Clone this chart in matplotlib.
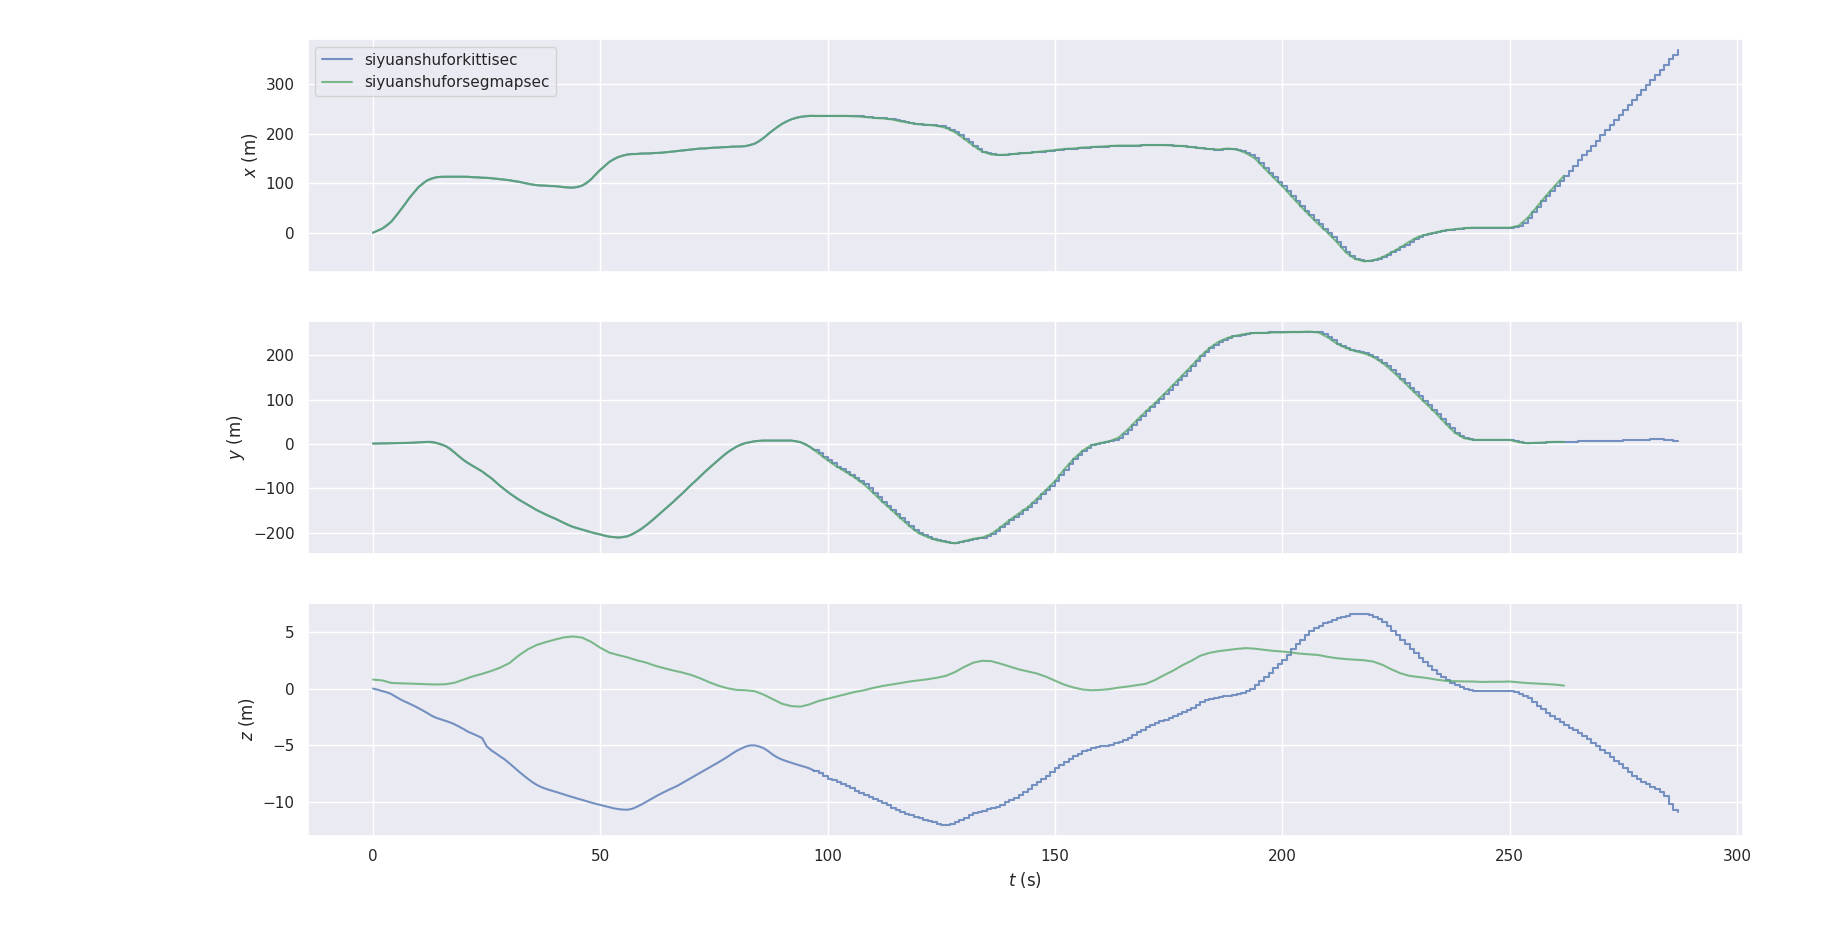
import numpy as np
import matplotlib
matplotlib.use("Agg")
import matplotlib.pyplot as plt
import seaborn as sns

# trajectory 1: siyuanshuforkittisec, one sample per second (t = 0 .. 287 s)
kitti_x = [
    0, 4, 8, 14, 22, 33, 45, 57, 70, 81,
    92, 100, 106, 110, 112, 113, 113, 113, 113, 113,
    113, 113, 112, 112, 111, 111, 110, 109, 108, 107,
    106, 104, 103, 101, 99, 97, 96, 95, 95, 94,
    94, 93, 92, 91, 91, 92, 95, 100, 108, 118,
    127, 135, 143, 149, 153, 156, 158, 159, 159, 160,
    160, 160, 161, 161, 162, 163, 164, 165, 166, 167,
    168, 169, 170, 170, 171, 172, 172, 173, 173, 174,
    174, 174, 175, 177, 180, 185, 192, 200, 207, 214,
    220, 225, 229, 232, 234, 235, 236, 236, 236, 236,
    236, 236, 236, 236, 236, 236, 235, 235, 234, 233,
    232, 231, 231, 230, 229, 227, 225, 223, 222, 220,
    219, 218, 218, 217, 216, 215, 212, 208, 203, 197,
    190, 183, 176, 170, 164, 160, 158, 157, 157, 157,
    158, 159, 160, 160, 161, 162, 163, 164, 165, 166,
    167, 168, 169, 169, 170, 171, 172, 172, 173, 173,
    174, 174, 175, 175, 176, 176, 176, 176, 176, 177,
    177, 177, 177, 177, 177, 177, 176, 176, 175, 174,
    173, 172, 171, 170, 169, 168, 168, 169, 170, 170,
    168, 165, 161, 156, 150, 141, 131, 121, 112, 103,
    94, 84, 74, 64, 54, 44, 35, 26, 17, 8,
    0, -9, -19, -30, -40, -48, -53, -56, -58, -58,
    -56, -53, -50, -45, -40, -35, -30, -24, -18, -13,
    -8, -5, -3, -1, 1, 3, 5, 6, 7, 8,
    9, 9, 10, 10, 10, 10, 10, 10, 10, 10,
    10, 11, 14, 20, 30, 41, 52, 63, 74, 85,
    95, 105, 115, 125, 135, 146, 156, 166, 176, 186,
    197, 207, 217, 227, 237, 248, 258, 268, 278, 288,
    299, 309, 319, 329, 339, 350, 360, 370,
]
kitti_y = [
    0.7, 0.9, 1.1, 1.3, 1.5, 1.7, 1.9, 2.0, 2.4, 2.9,
    3.4, 4.0, 4.5, 4.5, 2, -1, -5, -11, -20, -29,
    -37, -44, -50, -56, -62, -70, -77, -86, -95, -103,
    -111, -118, -125, -131, -137, -143, -149, -154, -159, -164,
    -168, -173, -178, -183, -187, -190, -193, -196, -199, -202,
    -204, -207, -209, -210, -211, -210, -208, -204, -198, -192,
    -184, -176, -167, -158, -149, -140, -131, -121, -112, -102,
    -92, -83, -73, -63, -54, -45, -36, -27, -19, -12,
    -6, -1, 2, 4, 6, 7, 7.5, 7.5, 7.5, 7.5,
    7.5, 7.5, 7.5, 6, 4, 0, -6, -13, -21, -29,
    -37, -44, -51, -57, -63, -69, -76, -83, -91, -100,
    -110, -120, -130, -139, -148, -158, -167, -176, -185, -193,
    -201, -206, -210, -214, -217, -219, -221, -223, -224, -222,
    -219, -216, -214, -213, -211, -208, -203, -196, -188, -180,
    -172, -164, -157, -150, -143, -134, -124, -113, -104, -94,
    -84, -71, -58, -46, -35, -25, -16, -9, -3, 0,
    2, 4, 6, 9, 14, 22, 32, 42, 53, 63,
    73, 83, 92, 102, 112, 122, 133, 143, 154, 165,
    175, 186, 197, 207, 216, 223, 230, 235, 239, 242,
    244, 246, 248, 249, 250, 250, 250, 251, 251, 251,
    251, 252, 252, 252, 252, 253, 253, 253, 251, 247,
    240, 233, 226, 220, 216, 212, 209, 206, 204, 201,
    196, 190, 183, 175, 166, 157, 147, 137, 127, 117,
    107, 97, 87, 77, 67, 56, 45, 35, 25, 18,
    13, 10, 9, 9, 9, 9, 9, 9, 9, 9,
    9, 7, 4, 2, 1.5, 2, 2.5, 3, 3.5, 4,
    4.5, 4.5, 4.5, 5, 5, 5.5, 5.5, 6, 6, 6.5,
    6.5, 7, 7, 7.5, 7.5, 8, 8.5, 9, 9, 9.5,
    9.5, 10, 10, 10, 9, 8, 7, 6,
]
kitti_z = [
    0.00, -0.10, -0.22, -0.33, -0.48, -0.72, -0.95, -1.15, -1.33, -1.52,
    -1.73, -1.95, -2.18, -2.42, -2.60, -2.73, -2.86, -3.00, -3.17, -3.38,
    -3.60, -3.83, -4.00, -4.18, -4.37, -5.10, -5.45, -5.72, -6.00, -6.27,
    -6.60, -6.95, -7.30, -7.63, -7.95, -8.25, -8.50, -8.70, -8.85, -8.98,
    -9.10, -9.22, -9.35, -9.48, -9.60, -9.72, -9.83, -9.95, -10.07, -10.18,
    -10.28, -10.38, -10.48, -10.58, -10.65, -10.69, -10.70, -10.62, -10.45, -10.25,
    -10.03, -9.80, -9.57, -9.35, -9.15, -8.95, -8.77, -8.58, -8.35, -8.12,
    -7.89, -7.66, -7.43, -7.20, -6.97, -6.74, -6.51, -6.27, -6.02, -5.75,
    -5.50, -5.30, -5.12, -5.02, -5.02, -5.12, -5.28, -5.55, -5.85, -6.10,
    -6.28, -6.42, -6.55, -6.68, -6.80, -6.92, -7.05, -7.25, -7.48, -7.72,
    -7.95, -8.12, -8.28, -8.45, -8.63, -8.82, -9.02, -9.20, -9.37, -9.55,
    -9.73, -9.90, -10.10, -10.32, -10.53, -10.73, -10.92, -11.07, -11.20, -11.33,
    -11.47, -11.58, -11.70, -11.82, -11.93, -12.03, -12.08, -11.98, -11.80, -11.62,
    -11.40, -11.20, -11.00, -10.88, -10.78, -10.68, -10.58, -10.43, -10.25, -10.05,
    -9.85, -9.65, -9.42, -9.12, -8.85, -8.55, -8.28, -8.00, -7.70, -7.35,
    -7.05, -6.78, -6.50, -6.22, -5.98, -5.75, -5.55, -5.40, -5.28, -5.18,
    -5.10, -5.05, -4.98, -4.85, -4.70, -4.55, -4.35, -4.12, -3.88, -3.62,
    -3.38, -3.20, -3.05, -2.90, -2.75, -2.60, -2.43, -2.28, -2.10, -1.90,
    -1.68, -1.45, -1.22, -1.03, -0.92, -0.85, -0.78, -0.70, -0.62, -0.55,
    -0.47, -0.35, -0.22, -0.05, 0.30, 0.65, 1.00, 1.38, 1.77, 2.15,
    2.52, 2.98, 3.45, 3.90, 4.33, 4.75, 5.10, 5.35, 5.55, 5.75,
    5.92, 6.06, 6.20, 6.33, 6.45, 6.55, 6.60, 6.62, 6.58, 6.50,
    6.35, 6.15, 5.85, 5.52, 5.12, 4.70, 4.30, 3.90, 3.50, 3.10,
    2.70, 2.30, 1.95, 1.60, 1.28, 1.02, 0.75, 0.50, 0.30, 0.12,
    -0.05, -0.15, -0.18, -0.19, -0.20, -0.20, -0.21, -0.21, -0.22, -0.22,
    -0.25, -0.32, -0.44, -0.62, -0.82, -1.15, -1.52, -1.85, -2.15, -2.42,
    -2.70, -2.95, -3.20, -3.45, -3.68, -3.90, -4.18, -4.48, -4.80, -5.10,
    -5.42, -5.73, -6.05, -6.38, -6.70, -7.02, -7.35, -7.70, -8.03, -8.25,
    -8.45, -8.68, -8.88, -9.15, -9.45, -10.20, -10.75, -10.93,
]

# trajectory 2: siyuanshuforsegmapsec, every 2 s (t = 0 .. 262 s)
segmap_x = [
    0, 8, 22, 45, 70, 92, 106, 112, 113, 113,
    113, 112, 111, 110, 108, 106, 103, 99, 96, 95,
    94, 92, 91, 95, 108, 127, 143, 153, 158, 159,
    160, 161, 162, 164, 166, 168, 170, 171, 172, 173,
    174, 175, 180, 192, 207, 220, 229, 234, 236, 236,
    236, 236, 236, 235, 234, 232, 231, 229, 225, 222,
    219, 218, 216, 212, 203, 190, 176, 164, 158, 157,
    158, 160, 161, 163, 165, 167, 169, 170, 172, 173,
    174, 175, 176, 176, 176, 177, 177, 177, 176, 175,
    173, 171, 169, 168, 170, 168, 161, 150, 131, 112,
    94, 74, 54, 35, 17, 0, -19, -40, -53, -58,
    -56, -50, -40, -30, -18, -8, -3, 1, 5, 7,
    9, 10, 10, 10, 10, 10, 14, 30, 52, 74,
    95, 115,
]
segmap_y = [
    0.7, 1.1, 1.5, 1.9, 2.4, 3.4, 4.5, 2, -5, -20,
    -37, -50, -62, -77, -95, -111, -125, -137, -149, -159,
    -168, -178, -187, -193, -199, -204, -209, -211, -208, -198,
    -184, -167, -149, -131, -112, -92, -73, -54, -36, -19,
    -6, 2, 6, 7.5, 7.5, 7.5, 7.5, 4, -6, -21,
    -37, -51, -63, -76, -91, -110, -130, -148, -167, -185,
    -201, -210, -217, -221, -224, -219, -214, -211, -203, -188,
    -172, -157, -143, -124, -104, -84, -58, -35, -16, -3,
    2, 6, 14, 32, 53, 73, 92, 112, 133, 154,
    175, 197, 216, 230, 239, 244, 248, 250, 250, 251,
    251, 252, 252, 253, 251, 240, 226, 216, 209, 204,
    196, 183, 166, 147, 127, 107, 87, 67, 45, 25,
    13, 9, 9, 9, 9, 9, 4, 1.5, 2.5, 3.5,
    4.5, 4.5,
]
segmap_z = [
    0.79, 0.72, 0.50, 0.46, 0.44, 0.41, 0.38, 0.36, 0.38, 0.52,
    0.80, 1.08, 1.30, 1.55, 1.85, 2.25, 2.90, 3.45, 3.85, 4.10,
    4.32, 4.52, 4.60, 4.50, 4.12, 3.60, 3.17, 2.95, 2.75, 2.50,
    2.30, 2.02, 1.80, 1.60, 1.42, 1.20, 0.90, 0.55, 0.25, 0.02,
    -0.12, -0.15, -0.24, -0.55, -0.95, -1.35, -1.55, -1.60, -1.40, -1.10,
    -0.90, -0.70, -0.50, -0.30, -0.15, 0.05, 0.22, 0.35, 0.48, 0.62,
    0.72, 0.82, 0.95, 1.12, 1.45, 1.90, 2.28, 2.45, 2.42, 2.20,
    1.95, 1.70, 1.52, 1.33, 1.05, 0.70, 0.35, 0.10, -0.08, -0.15,
    -0.12, -0.05, 0.08, 0.18, 0.30, 0.42, 0.75, 1.18, 1.58, 2.05,
    2.45, 2.90, 3.15, 3.30, 3.40, 3.50, 3.57, 3.52, 3.42, 3.33,
    3.27, 3.18, 3.08, 3.02, 2.96, 2.80, 2.68, 2.60, 2.55, 2.50,
    2.38, 2.10, 1.70, 1.35, 1.12, 1.02, 0.92, 0.78, 0.68, 0.65,
    0.63, 0.62, 0.58, 0.60, 0.60, 0.62, 0.55, 0.48, 0.44, 0.40,
    0.35, 0.26,
]

t_kitti = np.arange(len(kitti_x), dtype=float)
t_segmap = np.arange(len(segmap_x), dtype=float) * 2.0

# kitti poses look smooth early on and jump once per second later
STEP_FROM = 97

sns.set_theme(style="darkgrid", context="notebook")
plt.rcParams["font.family"] = ["DejaVu Sans"]

palette = sns.color_palette("deep")
blue = palette[0]
green = palette[2]

fig, axes = plt.subplots(3, 1, sharex=True, figsize=(18.32, 9.51), dpi=100)
fig.subplots_adjust(left=0.168, right=0.9514, top=0.959, bottom=0.121, hspace=0.2106)

series = [
    (kitti_x, segmap_x, "$x$ (m)"),
    (kitti_y, segmap_y, "$y$ (m)"),
    (kitti_z, segmap_z, "$z$ (m)"),
]

for ax, (k_vals, s_vals, ylabel) in zip(axes, series):
    k_vals = np.asarray(k_vals, dtype=float)
    ax.plot(t_kitti[:STEP_FROM + 1], k_vals[:STEP_FROM + 1], color=blue, alpha=0.75,
            label="siyuanshuforkittisec")
    ax.plot(t_kitti[STEP_FROM:], k_vals[STEP_FROM:], color=blue, alpha=0.75,
            drawstyle="steps-post")
    ax.plot(t_segmap, s_vals, color=green, alpha=0.75,
            label="siyuanshuforsegmapsec")
    ax.set_ylabel(ylabel)

axes[0].legend(loc="upper left", frameon=True)
axes[2].set_xlabel("$t$ (s)")

fig.savefig("out.png", dpi=100)
